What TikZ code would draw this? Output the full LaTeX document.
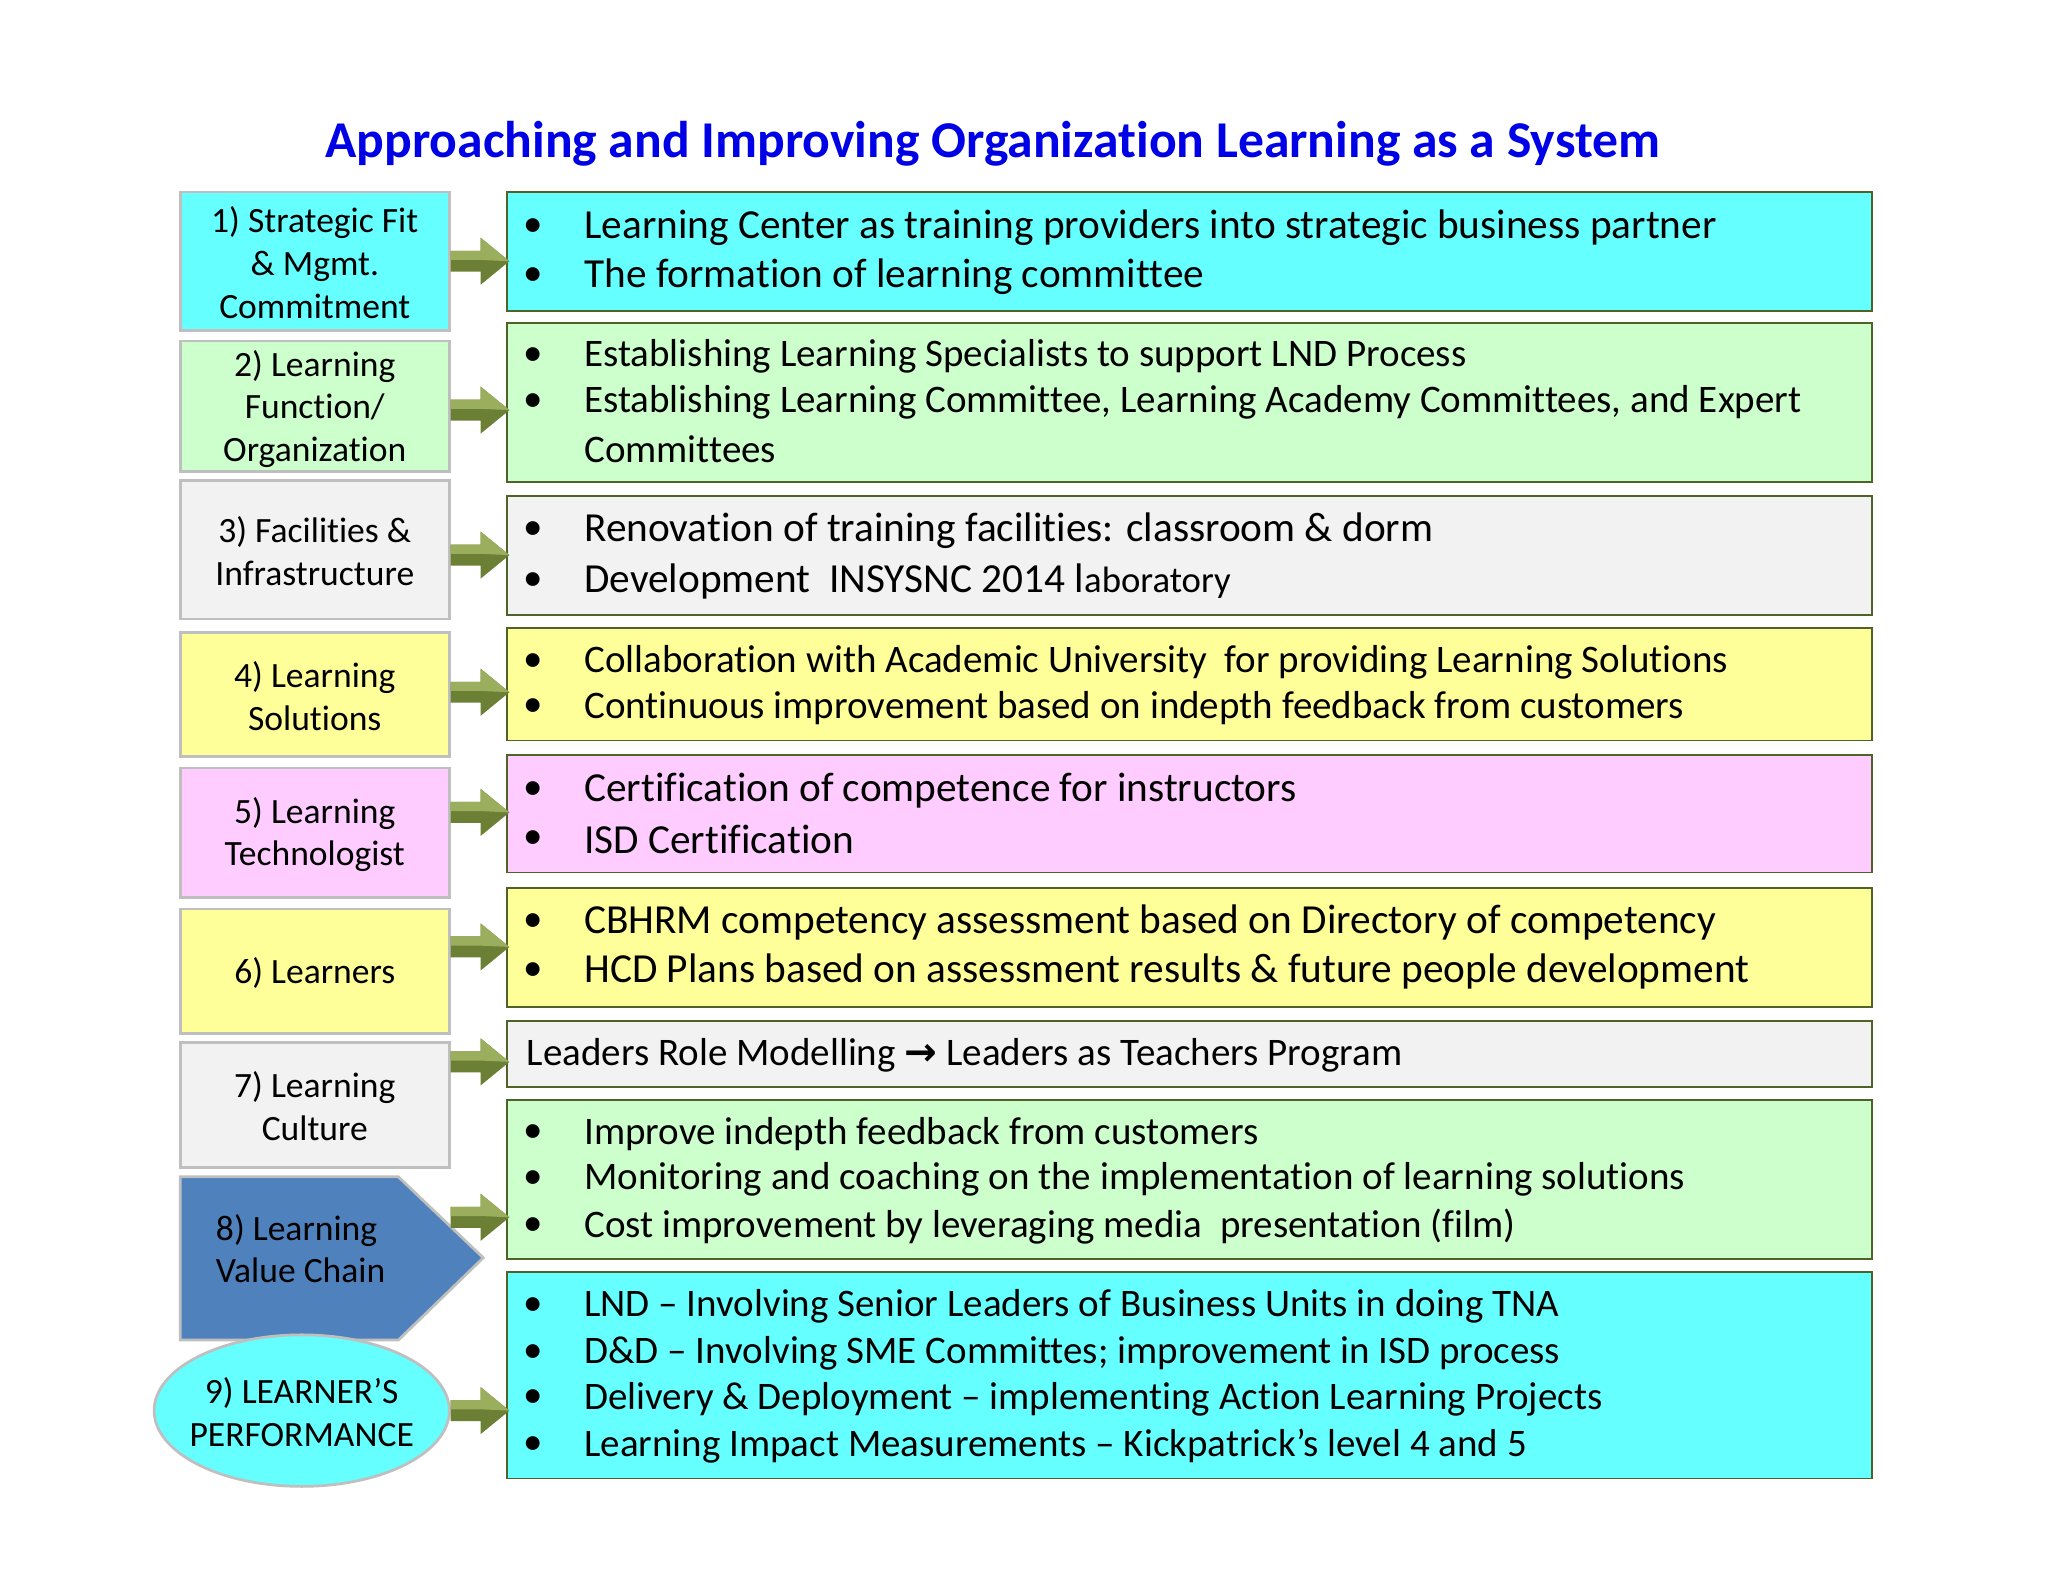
\documentclass[tikz,border=0pt]{standalone}
\usepackage{fontspec}
\setmainfont{Carlito}[Ligatures={NoCommon}]
\newfontfamily\djv{DejaVu Sans}
\begin{document}
\begin{tikzpicture}[x=0.02cm,y=-0.02cm,
 lbox/.style={draw=black!25,line width=1.2pt},
 rbox/.style={draw=olivedk,line width=0.8pt},
 ltxt/.style={align=center,font=\fontsize{15.5}{18.6}\selectfont,inner sep=0pt},
 rt/.style={anchor=west,inner sep=0pt,font=\fontsize{18}{20}\selectfont},
 rs/.style={anchor=west,inner sep=0pt,font=\fontsize{17}{20}\selectfont},
 bul/.style={inner sep=0pt,font=\fontsize{17}{18}\selectfont}]
\definecolor{cy}{HTML}{66FFFF}
\definecolor{lg}{HTML}{CCFFCC}
\definecolor{gy}{HTML}{F2F2F2}
\definecolor{ye}{HTML}{FFFF99}
\definecolor{pk}{HTML}{FFCCFF}
\definecolor{bl}{HTML}{4F81BD}
\definecolor{olivedk}{HTML}{4F6228}
\definecolor{arr}{HTML}{6B7F35}
\definecolor{arrl}{HTML}{9AAE5E}
\useasboundingbox (0,0) rectangle (1568,1212);
\fill[white] (0,0) rectangle (1568,1212);
\node[font=\bfseries\fontsize{22.5}{26}\selectfont,text={rgb,255:red,0;green,0;blue,230}] (title) at (760,110) {Approaching and Improving Organization Learning as a System};
% left boxes
\filldraw[lbox,fill=cy] (138,147) rectangle (344,253);
\node[ltxt] (l1) at (241,201) {1) Strategic Fit\\\& Mgmt.\\Commitment};
\filldraw[lbox,fill=lg] (138,261) rectangle (344,361);
\node[ltxt] (l2) at (241,313) {2) Learning\\Function/\\Organization};
\filldraw[lbox,fill=gy] (138,368) rectangle (344,474);
\node[ltxt] (l3) at (241,422) {3) Facilities \&\\Infrastructure};
\filldraw[lbox,fill=ye] (138,484) rectangle (344,579);
\node[ltxt] (l4) at (241,533) {4) Learning\\Solutions};
\filldraw[lbox,fill=pk] (138,588) rectangle (344,687);
\node[ltxt] (l5) at (241,639) {5) Learning\\Technologist};
\filldraw[lbox,fill=ye] (138,696) rectangle (344,791);
\node[ltxt] (l6) at (241,745) {6) Learners};
\filldraw[lbox,fill=gy] (138,798) rectangle (344,894);
\node[ltxt] (l7) at (241,847) {7) Learning\\Culture};
\filldraw[lbox,fill=bl] (138,901) -- (305,901) -- (370,963) -- (305,1026) -- (138,1026) -- cycle;
\node[ltxt,align=left,anchor=west] (l8) at (165,956) {8) Learning\\Value Chain};
\filldraw[lbox,fill=cy] (231,1080) ellipse [x radius=113,y radius=58];
\node[ltxt] (l9) at (231,1081) {9) LEARNER’S\\PERFORMANCE};
% right boxes
\filldraw[rbox,fill=cy] (388,147) rectangle (1433,238);
\filldraw[rbox,fill=lg] (388,247) rectangle (1433,369);
\filldraw[rbox,fill=gy] (388,380) rectangle (1433,471);
\filldraw[rbox,fill=ye] (388,481) rectangle (1433,567);
\filldraw[rbox,fill=pk] (388,578) rectangle (1433,668);
\filldraw[rbox,fill=ye] (388,680) rectangle (1433,771);
\filldraw[rbox,fill=gy] (388,782) rectangle (1433,832);
\filldraw[rbox,fill=lg] (388,842) rectangle (1433,964);
\filldraw[rbox,fill=cy] (388,974) rectangle (1433,1132);
% text
\foreach \y in {174,212,273,308,406,445,507,542,605,643,706,744,868,903,939,1000,1036,1071,1107} \node[bul] at (408,\y) {•};
\node[rt] (t1a) at (447,174) {Learning Center as training providers into strategic business partner};
\node[rt] (t1b) at (447,212) {The formation of learning committee};
\node[rs] (t2a) at (447,273) {Establishing Learning Specialists to support LND Process};
\node[rs] (t2b) at (447,308) {Establishing Learning Committee, Learning Academy Committees, and Expert};
\node[rs] (t2c) at (447,344) {Committees};
\node[rt] (t3a) at (447,406) {Renovation of training facilities: classroom \& dorm};
\node[rt] (t3b) at (447,445) {Development\ \ INSYSNC 2014 l{\fontsize{16}{18}\selectfont aboratory}};
\node[rs] (t4a) at (447,507) {Collaboration with Academic University\ \ for providing Learning Solutions};
\node[rs] (t4b) at (447,542) {Continuous improvement based on indepth feedback from customers};
\node[rt] (t5a) at (447,605) {Certification of competence for instructors};
\node[rt] (t5b) at (447,643) {ISD Certification};
\node[rt] (t6a) at (447,706) {CBHRM competency assessment based on Directory of competency};
\node[rt] (t6b) at (447,744) {HCD Plans based on assessment results \& future people development};
\node[rs] (t7) at (403,808) {Leaders Role Modelling {\djv\bfseries →} Leaders as Teachers Program};
\node[rs] (t8a) at (447,868) {Improve indepth feedback from customers};
\node[rs] (t8b) at (447,903) {Monitoring and coaching on the implementation of learning solutions};
\node[rs] (t8c) at (447,939) {Cost improvement by leveraging media\ \ presentation (film)};
\node[rs] (t9a) at (447,1000) {LND – Involving Senior Leaders of Business Units in doing TNA};
\node[rs] (t9b) at (447,1036) {D\&D – Involving SME Committes; improvement in ISD process};
\node[rs] (t9c) at (447,1071) {Delivery \& Deployment – implementing Action Learning Projects};
\node[rs] (t9d) at (447,1107) {Learning Impact Measurements – Kickpatrick’s level 4 and 5};
% arrows
\foreach \cy in {200,314,425,530,622,725,813,932,1080} {
 \fill[arr] (345,\cy-8) -- (368,\cy-8) -- (368,\cy-18) -- (390,\cy) -- (368,\cy+18) -- (368,\cy+8) -- (345,\cy+8) -- cycle;
 \fill[arrl] (345,\cy-8) -- (368,\cy-8) -- (368,\cy-18) -- (390,\cy) -- (368,\cy-1) -- (345,\cy-1) -- cycle;
}
\end{tikzpicture}
\end{document}
